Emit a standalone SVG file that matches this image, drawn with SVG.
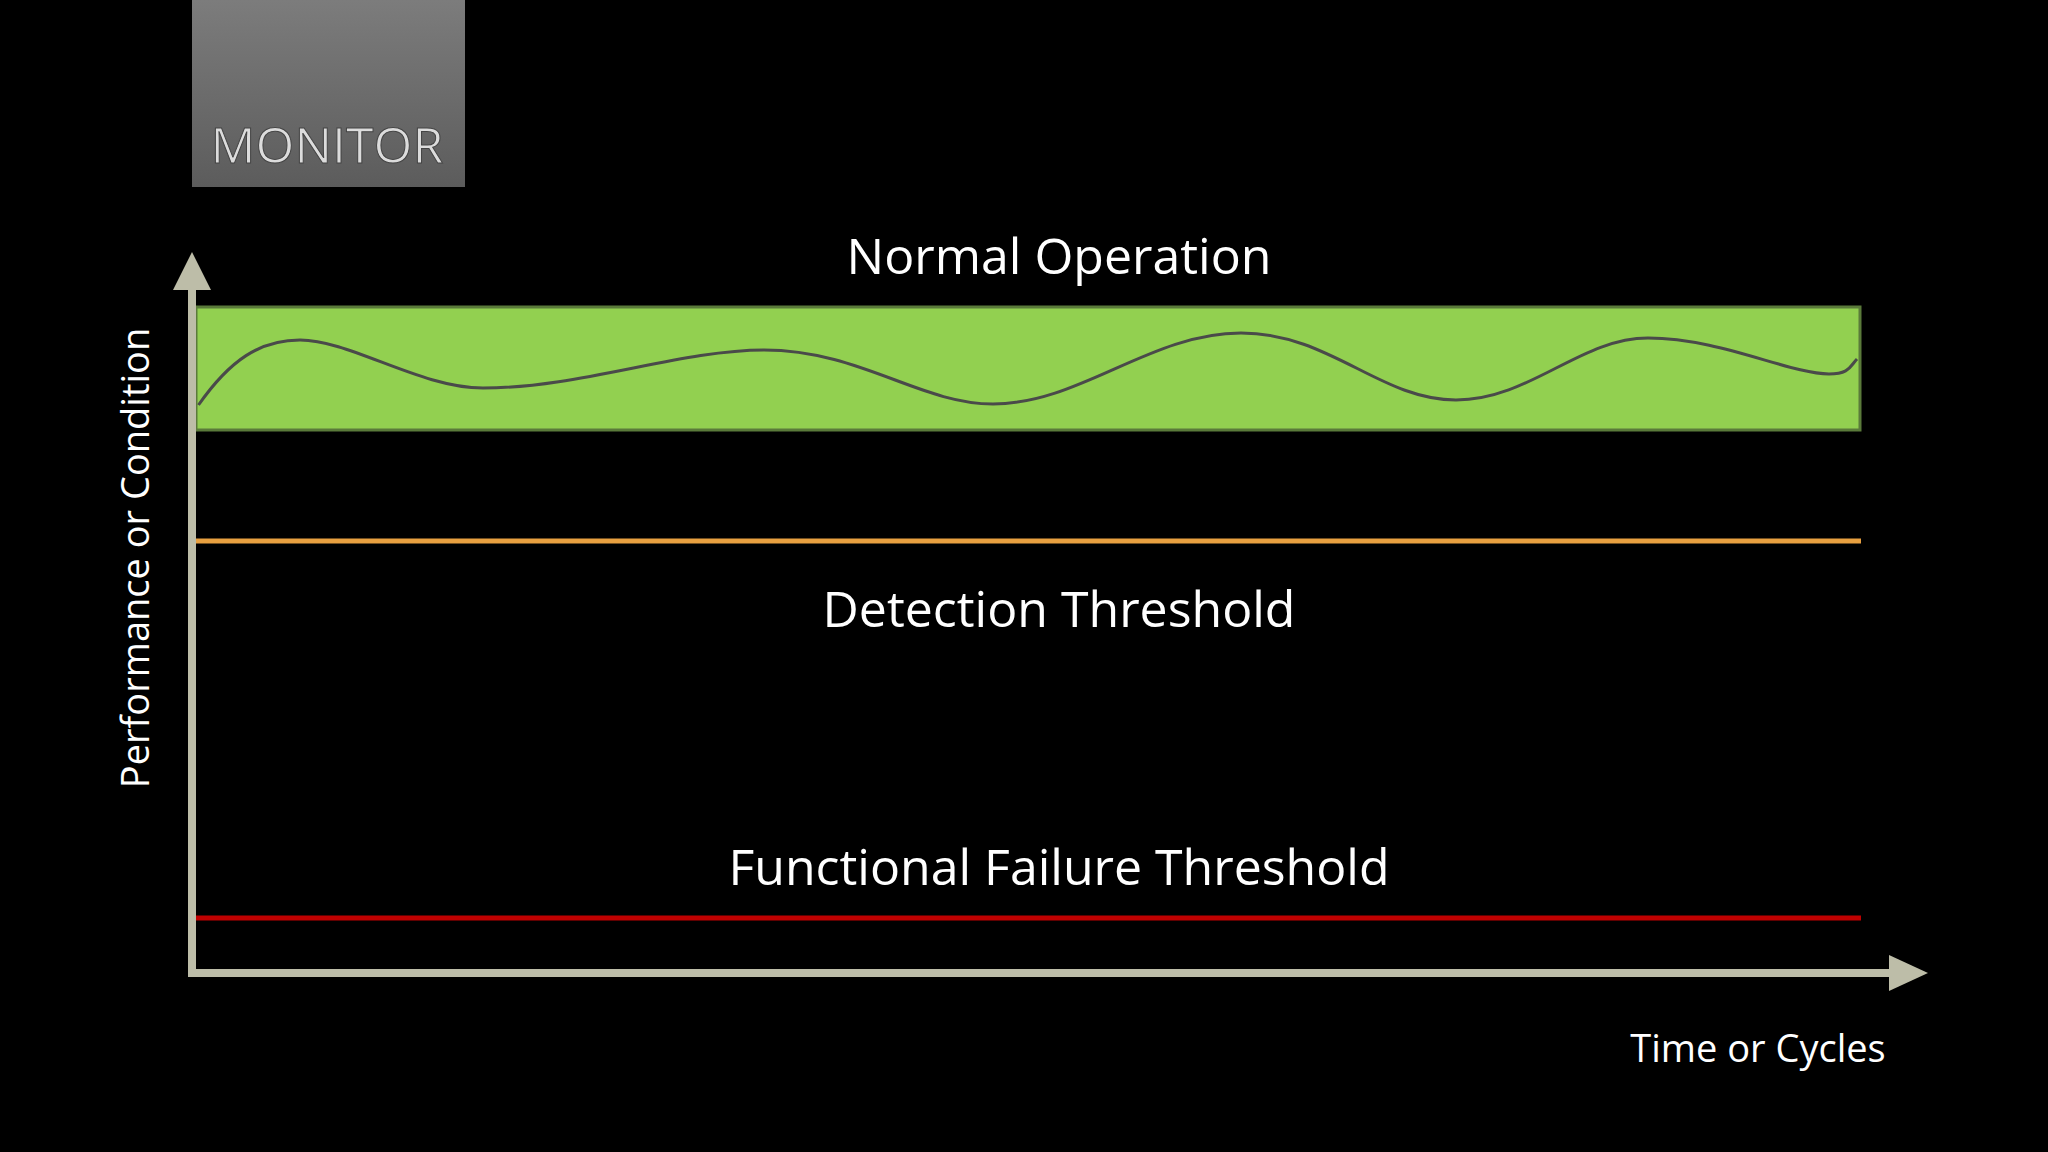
<svg xmlns="http://www.w3.org/2000/svg" width="2048" height="1152" viewBox="0 0 2048 1152">
<defs>
<linearGradient id="g" x1="0" y1="0" x2="0" y2="1"><stop offset="0" stop-color="#7c7c7c"/><stop offset="1" stop-color="#5c5c5c"/></linearGradient>
<style>
.t{font-family:"Open Sans","Liberation Sans",sans-serif;fill:#ffffff;text-anchor:middle}
.ax{stroke:#bdbda8;stroke-width:8;fill:none}
</style>
</defs>
<rect width="2048" height="1152" fill="#000"/>
<g id="monitor">
<rect x="192" y="0" width="273" height="187" fill="url(#g)"/>
<text x="327" y="163" class="t" font-size="50" fill="#d8d8d8" style="fill:#dcdcdc;stroke:#444;stroke-width:1">MONITOR</text>
</g>
<g id="normal">
<rect x="196" y="307" width="1664" height="123" fill="#92d050" stroke="#5a7a3a" stroke-width="3"/>
<path d="M198.5,405 C230,360 260,340 300,340 C350,340 420,388 483,388 C580,388 680,350 764,350 C860,350 920,404 993,404 C1080,404 1150,333 1241,333 C1330,333 1380,400 1456,400 C1530,400 1580,338 1648,338 C1720,338 1790,374 1829,374 C1850,374 1850,366 1857,359" fill="none" stroke="#4a4a4a" stroke-width="3"/>
<text x="1059" y="274" class="t" font-size="50">Normal Operation</text>
</g>
<g id="detection">
<line x1="196" y1="541" x2="1861" y2="541" stroke="#e8a040" stroke-width="5"/>
<text x="1059" y="627" class="t" font-size="50">Detection Threshold</text>
</g>
<g id="failure">
<line x1="196" y1="918" x2="1861" y2="918" stroke="#c00000" stroke-width="5"/>
<text x="1059" y="885" class="t" font-size="50">Functional Failure Threshold</text>
</g>
<g id="axes">
<polyline class="ax" points="192,285 192,973 1895,973"/>
<polygon points="192,252 173,290 211,290" fill="#bdbda8"/>
<polygon points="1928,973 1889,955 1889,991" fill="#bdbda8"/>
<text x="1758" y="1062" class="t" font-size="38">Time or Cycles</text>
<text transform="translate(149,558) rotate(-90)" x="0" y="0" class="t" font-size="38">Performance or Condition</text>
</g>
</svg>
